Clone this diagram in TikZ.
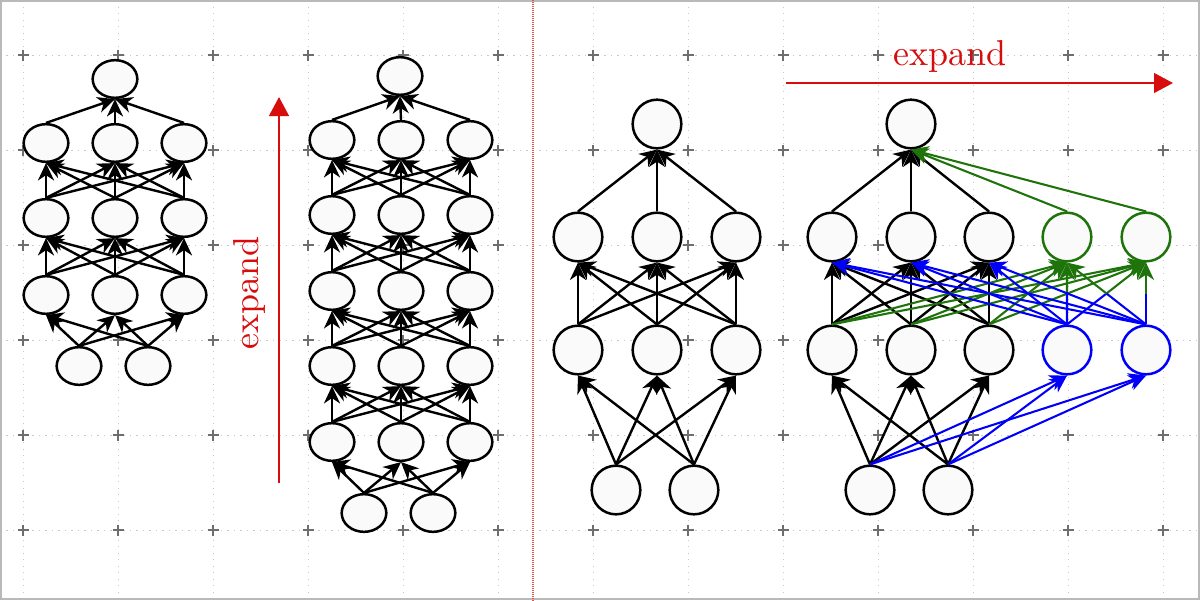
\documentclass[tikz,border=0pt]{standalone}
\usetikzlibrary{arrows.meta,shapes.geometric,calc}
\definecolor{xred}{RGB}{215,12,12}
\definecolor{xgreen}{RGB}{30,115,10}
\definecolor{xblue}{RGB}{0,0,250}
\definecolor{nodefill}{RGB}{250,250,250}
\definecolor{gridcol}{RGB}{200,200,200}
\definecolor{pluscol}{RGB}{110,110,110}
\tikzset{
  gridline/.style={gridcol, line width=0.3pt, dash pattern=on 0.35pt off 1.6pt},
  plusmark/.style={pluscol, line width=0.5pt},
  ell/.style={ellipse, draw=black, line width=0.75pt, fill=nodefill, minimum width=13.4pt, minimum height=11.3pt, inner sep=0pt},
  circ/.style={circle, draw=black, line width=0.75pt, fill=nodefill, minimum size=14.6pt, inner sep=0pt},
  conn/.style={black, line width=0.72pt, -{Stealth[length=5.2pt,width=4.8pt,inset=1.6pt]}},
  greenconn/.style={xgreen, line width=0.62pt, -{Stealth[length=5.2pt,width=4.8pt,inset=1.6pt]}},
  blueconn/.style={xblue, line width=0.62pt, -{Stealth[length=5.2pt,width=4.8pt,inset=1.6pt]}},
  blueline/.style={xblue, line width=0.62pt},
  redarrow/.style={xred, line width=0.72pt, -{Triangle[length=5.7pt,width=5.9pt]}},
  exptext/.style={text=xred, font=\fontsize{10.8}{12}\selectfont, inner sep=0pt},
}
\begin{document}
\begin{tikzpicture}[x=0.3pt, y=-0.3pt]
\useasboundingbox (0,0) rectangle (1200,600);
\fill[white] (0,0) rectangle (1200,600);
% grid
\foreach \i in {0,...,12} \draw[gridline] ({23+95*\i},0) -- ({23+95*\i},600);
\foreach \j in {0,...,5} \draw[gridline] (0,{55+95*\j}) -- (1200,{55+95*\j});
\foreach \i in {0,...,12} \foreach \j in {0,...,5}
  \draw[plusmark] ({23+95*\i-5.5},{55+95*\j}) -- ++(11,0) ({23+95*\i},{55+95*\j-5.5}) -- ++(0,11);
% frame and separator
\draw[gray!55, line width=0.6pt] (1,1) rectangle (1199,599);
\draw[xred!70, line width=0.45pt, dash pattern=on 0.3pt off 0.3pt] (533,0) -- (533,600);

% ---------- network 1 ----------
\node[ell] (p-top) at (115,79) {};
\foreach \r/\y in {1/143,2/218,3/295}
  \foreach \c/\x in {1/46,2/115,3/184}
    \node[ell] (p-\r-\c) at (\x,\y) {};
\node[ell] (p-in-1) at (79,366) {};
\node[ell] (p-in-2) at (148,366) {};
\foreach \c in {1,2,3} \draw[conn] (p-1-\c.north) -- (p-top.south);
\foreach \c in {1,2,3} \foreach \d in {1,2,3} {
  \draw[conn] (p-2-\c.north) -- (p-1-\d.south);
  \draw[conn] (p-3-\c.north) -- (p-2-\d.south);
}
\foreach \c in {1,2} \foreach \d in {1,2,3} \draw[conn] (p-in-\c.north) -- (p-3-\d.south);

% ---------- network 2 ----------
\node[ell] (q-top) at (400,76) {};
\foreach \r/\y in {1/140,2/215,3/291,4/366,5/442}
  \foreach \c/\x in {1/332,2/401,3/470}
    \node[ell] (q-\r-\c) at (\x,\y) {};
\node[ell] (q-in-1) at (364,513) {};
\node[ell] (q-in-2) at (433,513) {};
\foreach \c in {1,2,3} \draw[conn] (q-1-\c.north) -- (q-top.south);
\foreach \r/\s in {2/1,3/2,4/3,5/4}
  \foreach \c in {1,2,3} \foreach \d in {1,2,3}
    \draw[conn] (q-\r-\c.north) -- (q-\s-\d.south);
\foreach \c in {1,2} \foreach \d in {1,2,3} \draw[conn] (q-in-\c.north) -- (q-5-\d.south);

% vertical expand arrow
\coordinate (v0) at (279,483);
\coordinate (v1) at (279,97);
\draw[redarrow] (v0) -- (v1);
\node[exptext, rotate=90, anchor=base] (tv) at (258,293) {expand};

% ---------- network A ----------
\node[circ] (a-top) at (657,124) {};
\foreach \r/\y in {1/237,2/350}
  \foreach \c/\x in {1/578,2/657,3/736}
    \node[circ] (a-\r-\c) at (\x,\y) {};
\node[circ] (a-in-1) at (616,490) {};
\node[circ] (a-in-2) at (694,490) {};
\foreach \c in {1,2,3} \draw[conn] (a-1-\c.north) -- (a-top.south);
\foreach \c in {1,2,3} \foreach \d in {1,2,3} \draw[conn] (a-2-\c.north) -- (a-1-\d.south);
\foreach \c in {1,2} \foreach \d in {1,2,3} \draw[conn] (a-in-\c.north) -- (a-2-\d.south);

% ---------- network B ----------
\node[circ] (b-top) at (911,124) {};
\foreach \c/\x in {1/832,2/911,3/989} {
  \node[circ] (b-1-\c) at (\x,237) {};
  \node[circ] (b-2-\c) at (\x,350) {};
}
\node[circ, draw=xgreen] (b-1-4) at (1067,237) {};
\node[circ, draw=xgreen] (b-1-5) at (1146,237) {};
\node[circ, draw=xblue] (b-2-4) at (1067,350) {};
\node[circ, draw=xblue] (b-2-5) at (1146,350) {};
\node[circ] (b-in-1) at (870,490) {};
\node[circ] (b-in-2) at (948,490) {};
% black
\foreach \c in {1,2,3} \draw[conn] (b-1-\c.north) -- (b-top.south);
\foreach \c in {1,2,3} \foreach \d in {1,2,3} \draw[conn] (b-2-\c.north) -- (b-1-\d.south);
\foreach \c in {1,2} \foreach \d in {1,2,3} \draw[conn] (b-in-\c.north) -- (b-2-\d.south);
% green
\foreach \c in {4,5} \draw[greenconn] (b-1-\c.north) -- (b-top.south);
\foreach \c in {1,2,3} \foreach \d in {4,5} \draw[greenconn] (b-2-\c.north) -- (b-1-\d.south);
\foreach \c in {4,5} \foreach \d in {4,5} {
  \coordinate (m-\c-\d) at ($(b-2-\c.north)!0.5!(b-1-\d.south)$);
  \draw[blueline] (b-2-\c.north) -- (m-\c-\d);
  \draw[greenconn] (m-\c-\d) -- (b-1-\d.south);
}
% blue
\foreach \c in {4,5} \foreach \d in {1,2,3} \draw[blueconn] (b-2-\c.north) -- (b-1-\d.south);
\foreach \c in {1,2} \foreach \d in {4,5} \draw[blueconn] (b-in-\c.north) -- (b-2-\d.south);

% horizontal expand arrow
\coordinate (h0) at (786,83);
\coordinate (h1) at (1173,83);
\draw[redarrow] (h0) -- (h1);
\node[exptext, anchor=base] (th) at (950,65) {expand};
\end{tikzpicture}
\end{document}
